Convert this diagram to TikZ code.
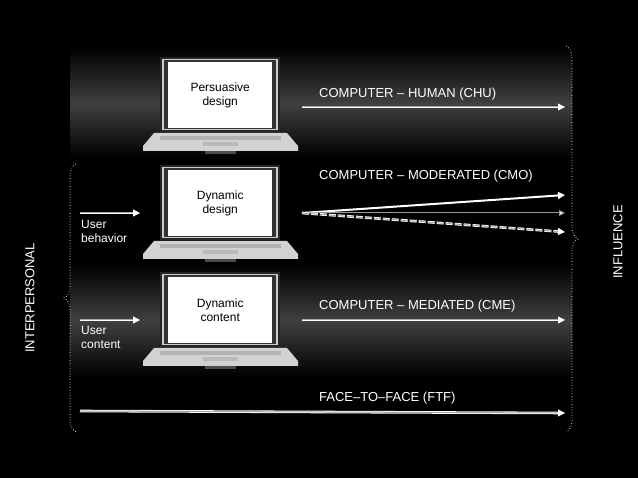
\documentclass[tikz,border=0pt]{standalone}
\usepackage{fontspec}
\setmainfont{Liberation Sans}
\usetikzlibrary{arrows.meta,decorations.pathreplacing}
\tikzset{
 lbl/.style={text=white,font=\fontsize{13}{15}\selectfont,inner sep=0pt},
 small/.style={text=white,font=\fontsize{12}{14}\selectfont,align=left,inner sep=0pt},
 scr/.style={font=\fontsize{12}{14}\selectfont,align=center,text=black},
 dar/.style={draw=white,double=gray!70,double distance=1pt,line width=0.8pt,-{Triangle[length=7pt,width=7pt]}},
 brc/.style={draw=white,dotted,line width=0.7pt,decorate},
}
\newcommand{\laptop}[3]{%
 \fill[black!85] (160,#1-5) rectangle (280,#1+70);
 \fill[gray!40] (162,#1-3) rectangle (278,#1+68);
 \fill[black!80] (164,#1-2) rectangle (276,#1+67);
 \fill[gray!35] (143,#1+84) -- (154,#1+71) -- (287,#1+71) -- (298,#1+84) -- (298,#1+89) -- (143,#1+89) -- cycle;
 \fill[gray!60] (160,#1+74) rectangle (281,#1+78);
 \fill[gray!55] (203,#1+80) rectangle (238,#1+84);
 \fill[black!70] (205,#1+89) rectangle (236,#1+92);
 \node[fill=white,minimum width=104pt,minimum height=66pt,inner sep=0pt,anchor=north west,scr] (#2) at (168,#1) {#3};
}
\begin{document}
\begin{tikzpicture}[x=1pt,y=-1pt]
\fill[black] (0,0) rectangle (638,478);
\useasboundingbox (0,0) rectangle (638,478);
% bands
\shade[top color=black,bottom color=black,middle color=black!75] (70,48) rectangle (572,158);
\shade[top color=black,bottom color=black,middle color=black!75] (70,264) rectangle (572,377);
% laptops
\laptop{62}{s1}{Persuasive\\design}
\laptop{170}{s2}{Dynamic\\design}
\laptop{277}{s3}{Dynamic\\content}
% arrows
\node[lbl,anchor=west] (t1) at (319,94) {COMPUTER -- HUMAN (CHU)};
\coordinate (a1) at (302,107); \coordinate (b1) at (565,107);
\draw[dar] (a1) -- (b1);
\node[lbl,anchor=west] (t2) at (319,176) {COMPUTER -- MODERATED (CMO)};
\coordinate (a2) at (302,213);
\coordinate (b2a) at (565,195); \coordinate (b2b) at (565,213); \coordinate (b2c) at (565,232);
\draw[white,line width=2pt,-{Triangle[length=7pt,width=7pt]}] (a2) -- (b2a);
\draw[gray!80,line width=1pt,-{Triangle[length=6pt,width=6pt,fill=white]}] (a2) -- (b2b);
\draw[dar,dash pattern=on 7pt off 2pt] (a2) -- (b2c);
\node[lbl,anchor=west] (t3) at (319,306) {COMPUTER -- MEDIATED (CME)};
\coordinate (a3) at (302,320); \coordinate (b3) at (565,320);
\draw[dar] (a3) -- (b3);
\node[lbl,anchor=west] (t4) at (319,398) {FACE--TO--FACE (FTF)};
\coordinate (a4) at (80,411); \coordinate (b4) at (565,413);
\draw[dar] (a4) -- (b4);
% user inputs
\coordinate (u1) at (80,213); \coordinate (v1) at (140,213);
\draw[dar] (u1) -- (v1);
\node[small,anchor=north west] (ub) at (81,220) {User\\behavior};
\coordinate (u2) at (80,320); \coordinate (v2) at (140,320);
\draw[dar] (u2) -- (v2);
\node[small,anchor=north west] (uc) at (81,326) {User\\content};
% braces
\draw[brc,decoration={brace,amplitude=12pt}] (566,46) -- (566,432);
\node[lbl,rotate=90] (inf) at (618,242) {INFLUENCE};
\draw[brc,decoration={brace,amplitude=12pt,mirror}] (76,164) -- (76,432);
\node[lbl,rotate=90] (ip) at (30,298) {INTERPERSONAL};
\end{tikzpicture}
\end{document}
